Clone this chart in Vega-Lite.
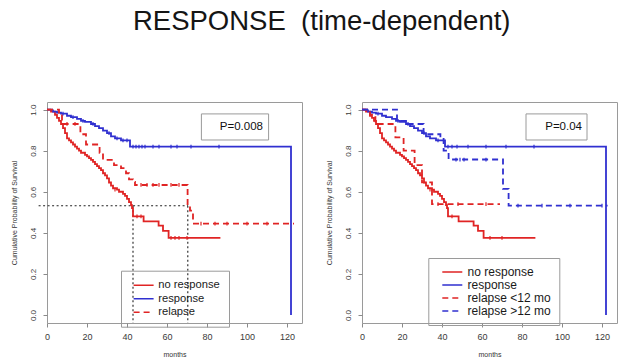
{
  "$schema": "https://vega.github.io/schema/vega-lite/v6.json",
  "padding": {"left": 10, "top": 8, "right": 0, "bottom": 0},
  "title": {"text": "RESPONSE \u00a0(time-dependent)", "fontSize": 27.5, "font": "Liberation Sans", "fontWeight": "normal", "color": "#151515", "anchor": "middle", "offset": 66, "dx": 8},
  "datasets": {
    "km": [
      {"panel": "L", "group": "no response", "month": 0, "surv": 1.0},
      {"panel": "L", "group": "no response", "month": 2, "surv": 0.99},
      {"panel": "L", "group": "no response", "month": 4, "surv": 0.975},
      {"panel": "L", "group": "no response", "month": 5, "surv": 0.96},
      {"panel": "L", "group": "no response", "month": 6, "surv": 0.945},
      {"panel": "L", "group": "no response", "month": 7, "surv": 0.93},
      {"panel": "L", "group": "no response", "month": 8, "surv": 0.91},
      {"panel": "L", "group": "no response", "month": 9, "surv": 0.885},
      {"panel": "L", "group": "no response", "month": 10, "surv": 0.86},
      {"panel": "L", "group": "no response", "month": 11, "surv": 0.85},
      {"panel": "L", "group": "no response", "month": 12, "surv": 0.84},
      {"panel": "L", "group": "no response", "month": 13, "surv": 0.83},
      {"panel": "L", "group": "no response", "month": 14, "surv": 0.82},
      {"panel": "L", "group": "no response", "month": 15, "surv": 0.81},
      {"panel": "L", "group": "no response", "month": 16, "surv": 0.8},
      {"panel": "L", "group": "no response", "month": 17, "surv": 0.79},
      {"panel": "L", "group": "no response", "month": 19, "surv": 0.78},
      {"panel": "L", "group": "no response", "month": 20, "surv": 0.772},
      {"panel": "L", "group": "no response", "month": 21, "surv": 0.764},
      {"panel": "L", "group": "no response", "month": 22, "surv": 0.755},
      {"panel": "L", "group": "no response", "month": 23, "surv": 0.745},
      {"panel": "L", "group": "no response", "month": 24, "surv": 0.735},
      {"panel": "L", "group": "no response", "month": 25, "surv": 0.725},
      {"panel": "L", "group": "no response", "month": 26, "surv": 0.715},
      {"panel": "L", "group": "no response", "month": 27, "surv": 0.705},
      {"panel": "L", "group": "no response", "month": 28, "surv": 0.69},
      {"panel": "L", "group": "no response", "month": 29, "surv": 0.68},
      {"panel": "L", "group": "no response", "month": 30, "surv": 0.665},
      {"panel": "L", "group": "no response", "month": 31, "surv": 0.645},
      {"panel": "L", "group": "no response", "month": 32, "surv": 0.63},
      {"panel": "L", "group": "no response", "month": 33, "surv": 0.617},
      {"panel": "L", "group": "no response", "month": 35, "surv": 0.61},
      {"panel": "L", "group": "no response", "month": 36, "surv": 0.6},
      {"panel": "L", "group": "no response", "month": 38, "surv": 0.59},
      {"panel": "L", "group": "no response", "month": 39, "surv": 0.58},
      {"panel": "L", "group": "no response", "month": 40, "surv": 0.565},
      {"panel": "L", "group": "no response", "month": 41, "surv": 0.55},
      {"panel": "L", "group": "no response", "month": 42, "surv": 0.535},
      {"panel": "L", "group": "no response", "month": 42.5, "surv": 0.52},
      {"panel": "L", "group": "no response", "month": 43, "surv": 0.48},
      {"panel": "L", "group": "no response", "month": 48.3, "surv": 0.456},
      {"panel": "L", "group": "no response", "month": 55.8, "surv": 0.435},
      {"panel": "L", "group": "no response", "month": 58, "surv": 0.41},
      {"panel": "L", "group": "no response", "month": 60.8, "surv": 0.375},
      {"panel": "L", "group": "no response", "month": 86.7, "surv": 0.375},
      {"panel": "L", "group": "response", "month": 0, "surv": 1.0},
      {"panel": "L", "group": "response", "month": 3, "surv": 0.99},
      {"panel": "L", "group": "response", "month": 5, "surv": 0.985},
      {"panel": "L", "group": "response", "month": 7, "surv": 0.98},
      {"panel": "L", "group": "response", "month": 10, "surv": 0.97},
      {"panel": "L", "group": "response", "month": 12, "surv": 0.963},
      {"panel": "L", "group": "response", "month": 15, "surv": 0.955},
      {"panel": "L", "group": "response", "month": 17, "surv": 0.945},
      {"panel": "L", "group": "response", "month": 19, "surv": 0.94},
      {"panel": "L", "group": "response", "month": 22, "surv": 0.93},
      {"panel": "L", "group": "response", "month": 24, "surv": 0.92},
      {"panel": "L", "group": "response", "month": 26, "surv": 0.91},
      {"panel": "L", "group": "response", "month": 28, "surv": 0.898},
      {"panel": "L", "group": "response", "month": 30, "surv": 0.885},
      {"panel": "L", "group": "response", "month": 32, "surv": 0.87},
      {"panel": "L", "group": "response", "month": 34, "surv": 0.86},
      {"panel": "L", "group": "response", "month": 37, "surv": 0.85},
      {"panel": "L", "group": "response", "month": 41.5, "surv": 0.82},
      {"panel": "L", "group": "response", "month": 122, "surv": 0.0},
      {"panel": "L", "group": "relapse", "month": 0, "surv": 1.0},
      {"panel": "L", "group": "relapse", "month": 6, "surv": 0.985},
      {"panel": "L", "group": "relapse", "month": 7.5, "surv": 0.93},
      {"panel": "L", "group": "relapse", "month": 16.7, "surv": 0.88},
      {"panel": "L", "group": "relapse", "month": 19.5, "surv": 0.83},
      {"panel": "L", "group": "relapse", "month": 26.3, "surv": 0.79},
      {"panel": "L", "group": "relapse", "month": 28, "surv": 0.755},
      {"panel": "L", "group": "relapse", "month": 33.5, "surv": 0.73},
      {"panel": "L", "group": "relapse", "month": 37, "surv": 0.715},
      {"panel": "L", "group": "relapse", "month": 39.5, "surv": 0.69},
      {"panel": "L", "group": "relapse", "month": 41, "surv": 0.66},
      {"panel": "L", "group": "relapse", "month": 43, "surv": 0.648},
      {"panel": "L", "group": "relapse", "month": 44, "surv": 0.633},
      {"panel": "L", "group": "relapse", "month": 70.3, "surv": 0.53},
      {"panel": "L", "group": "relapse", "month": 71.5, "surv": 0.508},
      {"panel": "L", "group": "relapse", "month": 73, "surv": 0.445},
      {"panel": "L", "group": "relapse", "month": 123.5, "surv": 0.445},
      {"panel": "R", "group": "no response", "month": 0, "surv": 1.0},
      {"panel": "R", "group": "no response", "month": 2, "surv": 0.99},
      {"panel": "R", "group": "no response", "month": 4, "surv": 0.975},
      {"panel": "R", "group": "no response", "month": 5, "surv": 0.96},
      {"panel": "R", "group": "no response", "month": 6, "surv": 0.945},
      {"panel": "R", "group": "no response", "month": 7, "surv": 0.93},
      {"panel": "R", "group": "no response", "month": 8, "surv": 0.91},
      {"panel": "R", "group": "no response", "month": 9, "surv": 0.885},
      {"panel": "R", "group": "no response", "month": 10, "surv": 0.86},
      {"panel": "R", "group": "no response", "month": 11, "surv": 0.85},
      {"panel": "R", "group": "no response", "month": 12, "surv": 0.84},
      {"panel": "R", "group": "no response", "month": 13, "surv": 0.83},
      {"panel": "R", "group": "no response", "month": 14, "surv": 0.82},
      {"panel": "R", "group": "no response", "month": 15, "surv": 0.81},
      {"panel": "R", "group": "no response", "month": 16, "surv": 0.8},
      {"panel": "R", "group": "no response", "month": 17, "surv": 0.79},
      {"panel": "R", "group": "no response", "month": 19, "surv": 0.78},
      {"panel": "R", "group": "no response", "month": 20, "surv": 0.772},
      {"panel": "R", "group": "no response", "month": 21, "surv": 0.764},
      {"panel": "R", "group": "no response", "month": 22, "surv": 0.755},
      {"panel": "R", "group": "no response", "month": 23, "surv": 0.745},
      {"panel": "R", "group": "no response", "month": 24, "surv": 0.735},
      {"panel": "R", "group": "no response", "month": 25, "surv": 0.725},
      {"panel": "R", "group": "no response", "month": 26, "surv": 0.715},
      {"panel": "R", "group": "no response", "month": 27, "surv": 0.705},
      {"panel": "R", "group": "no response", "month": 28, "surv": 0.69},
      {"panel": "R", "group": "no response", "month": 29, "surv": 0.68},
      {"panel": "R", "group": "no response", "month": 30, "surv": 0.665},
      {"panel": "R", "group": "no response", "month": 31, "surv": 0.645},
      {"panel": "R", "group": "no response", "month": 32, "surv": 0.63},
      {"panel": "R", "group": "no response", "month": 33, "surv": 0.617},
      {"panel": "R", "group": "no response", "month": 35, "surv": 0.61},
      {"panel": "R", "group": "no response", "month": 36, "surv": 0.6},
      {"panel": "R", "group": "no response", "month": 38, "surv": 0.59},
      {"panel": "R", "group": "no response", "month": 39, "surv": 0.58},
      {"panel": "R", "group": "no response", "month": 40, "surv": 0.565},
      {"panel": "R", "group": "no response", "month": 41, "surv": 0.55},
      {"panel": "R", "group": "no response", "month": 42, "surv": 0.535},
      {"panel": "R", "group": "no response", "month": 42.5, "surv": 0.52},
      {"panel": "R", "group": "no response", "month": 43, "surv": 0.48},
      {"panel": "R", "group": "no response", "month": 48.3, "surv": 0.456},
      {"panel": "R", "group": "no response", "month": 55.8, "surv": 0.435},
      {"panel": "R", "group": "no response", "month": 58, "surv": 0.41},
      {"panel": "R", "group": "no response", "month": 60.8, "surv": 0.375},
      {"panel": "R", "group": "no response", "month": 86.7, "surv": 0.375},
      {"panel": "R", "group": "response", "month": 0, "surv": 1.0},
      {"panel": "R", "group": "response", "month": 3, "surv": 0.99},
      {"panel": "R", "group": "response", "month": 5, "surv": 0.985},
      {"panel": "R", "group": "response", "month": 7, "surv": 0.98},
      {"panel": "R", "group": "response", "month": 10, "surv": 0.97},
      {"panel": "R", "group": "response", "month": 12, "surv": 0.963},
      {"panel": "R", "group": "response", "month": 15, "surv": 0.955},
      {"panel": "R", "group": "response", "month": 17, "surv": 0.945},
      {"panel": "R", "group": "response", "month": 19, "surv": 0.94},
      {"panel": "R", "group": "response", "month": 22, "surv": 0.93},
      {"panel": "R", "group": "response", "month": 24, "surv": 0.92},
      {"panel": "R", "group": "response", "month": 26, "surv": 0.91},
      {"panel": "R", "group": "response", "month": 28, "surv": 0.898},
      {"panel": "R", "group": "response", "month": 30, "surv": 0.885},
      {"panel": "R", "group": "response", "month": 32, "surv": 0.87},
      {"panel": "R", "group": "response", "month": 34, "surv": 0.86},
      {"panel": "R", "group": "response", "month": 37, "surv": 0.85},
      {"panel": "R", "group": "response", "month": 41.5, "surv": 0.82},
      {"panel": "R", "group": "response", "month": 122, "surv": 0.0},
      {"panel": "R", "group": "relapse <12 mo", "month": 0, "surv": 1.0},
      {"panel": "R", "group": "relapse <12 mo", "month": 4, "surv": 0.97},
      {"panel": "R", "group": "relapse <12 mo", "month": 6.7, "surv": 0.93},
      {"panel": "R", "group": "relapse <12 mo", "month": 16.7, "surv": 0.865},
      {"panel": "R", "group": "relapse <12 mo", "month": 20.8, "surv": 0.8},
      {"panel": "R", "group": "relapse <12 mo", "month": 26.3, "surv": 0.73},
      {"panel": "R", "group": "relapse <12 mo", "month": 30, "surv": 0.646},
      {"panel": "R", "group": "relapse <12 mo", "month": 35, "surv": 0.54},
      {"panel": "R", "group": "relapse <12 mo", "month": 69, "surv": 0.54},
      {"panel": "R", "group": "relapse >12 mo", "month": 0, "surv": 1.0},
      {"panel": "R", "group": "relapse >12 mo", "month": 17.5, "surv": 0.945},
      {"panel": "R", "group": "relapse >12 mo", "month": 22, "surv": 0.93},
      {"panel": "R", "group": "relapse >12 mo", "month": 30.8, "surv": 0.88},
      {"panel": "R", "group": "relapse >12 mo", "month": 39.2, "surv": 0.87},
      {"panel": "R", "group": "relapse >12 mo", "month": 40.8, "surv": 0.8},
      {"panel": "R", "group": "relapse >12 mo", "month": 43.3, "surv": 0.757},
      {"panel": "R", "group": "relapse >12 mo", "month": 70.5, "surv": 0.614},
      {"panel": "R", "group": "relapse >12 mo", "month": 73.3, "surv": 0.532},
      {"panel": "R", "group": "relapse >12 mo", "month": 122.8, "surv": 0.532}
    ],
    "censor": [
      {"panel": "L", "group": "response", "month": 8, "surv": 0.98},
      {"panel": "L", "group": "response", "month": 13, "surv": 0.963},
      {"panel": "L", "group": "response", "month": 18, "surv": 0.945},
      {"panel": "L", "group": "response", "month": 23, "surv": 0.93},
      {"panel": "L", "group": "response", "month": 31, "surv": 0.885},
      {"panel": "L", "group": "response", "month": 35, "surv": 0.86},
      {"panel": "L", "group": "response", "month": 38, "surv": 0.85},
      {"panel": "L", "group": "response", "month": 40, "surv": 0.85},
      {"panel": "L", "group": "response", "month": 43, "surv": 0.82},
      {"panel": "L", "group": "response", "month": 44.5, "surv": 0.82},
      {"panel": "L", "group": "response", "month": 46, "surv": 0.82},
      {"panel": "L", "group": "response", "month": 47.5, "surv": 0.82},
      {"panel": "L", "group": "response", "month": 49, "surv": 0.82},
      {"panel": "L", "group": "response", "month": 53, "surv": 0.82},
      {"panel": "L", "group": "response", "month": 56, "surv": 0.82},
      {"panel": "L", "group": "response", "month": 62, "surv": 0.82},
      {"panel": "L", "group": "response", "month": 65, "surv": 0.82},
      {"panel": "L", "group": "response", "month": 72, "surv": 0.82},
      {"panel": "L", "group": "response", "month": 86, "surv": 0.82},
      {"panel": "L", "group": "no response", "month": 34, "surv": 0.61},
      {"panel": "L", "group": "no response", "month": 45, "surv": 0.48},
      {"panel": "L", "group": "no response", "month": 47, "surv": 0.48},
      {"panel": "L", "group": "no response", "month": 62, "surv": 0.375},
      {"panel": "L", "group": "no response", "month": 64, "surv": 0.375},
      {"panel": "L", "group": "no response", "month": 66, "surv": 0.375},
      {"panel": "L", "group": "no response", "month": 70, "surv": 0.375},
      {"panel": "L", "group": "relapse", "month": 10, "surv": 0.93},
      {"panel": "L", "group": "relapse", "month": 14, "surv": 0.93},
      {"panel": "L", "group": "relapse", "month": 47, "surv": 0.633},
      {"panel": "L", "group": "relapse", "month": 50, "surv": 0.633},
      {"panel": "L", "group": "relapse", "month": 53, "surv": 0.633},
      {"panel": "L", "group": "relapse", "month": 56, "surv": 0.633},
      {"panel": "L", "group": "relapse", "month": 62, "surv": 0.633},
      {"panel": "L", "group": "relapse", "month": 66, "surv": 0.633},
      {"panel": "L", "group": "relapse", "month": 77, "surv": 0.445},
      {"panel": "L", "group": "relapse", "month": 84, "surv": 0.445},
      {"panel": "L", "group": "relapse", "month": 90, "surv": 0.445},
      {"panel": "L", "group": "relapse", "month": 100, "surv": 0.445},
      {"panel": "L", "group": "relapse", "month": 110, "surv": 0.445},
      {"panel": "R", "group": "response", "month": 8, "surv": 0.98},
      {"panel": "R", "group": "response", "month": 18, "surv": 0.945},
      {"panel": "R", "group": "response", "month": 23, "surv": 0.93},
      {"panel": "R", "group": "response", "month": 31, "surv": 0.885},
      {"panel": "R", "group": "response", "month": 38, "surv": 0.85},
      {"panel": "R", "group": "response", "month": 43, "surv": 0.82},
      {"panel": "R", "group": "response", "month": 45, "surv": 0.82},
      {"panel": "R", "group": "response", "month": 47.5, "surv": 0.82},
      {"panel": "R", "group": "response", "month": 53, "surv": 0.82},
      {"panel": "R", "group": "response", "month": 62, "surv": 0.82},
      {"panel": "R", "group": "response", "month": 72, "surv": 0.82},
      {"panel": "R", "group": "response", "month": 86, "surv": 0.82},
      {"panel": "R", "group": "no response", "month": 34, "surv": 0.61},
      {"panel": "R", "group": "no response", "month": 45, "surv": 0.48},
      {"panel": "R", "group": "no response", "month": 64, "surv": 0.375},
      {"panel": "R", "group": "no response", "month": 70, "surv": 0.375},
      {"panel": "R", "group": "relapse <12 mo", "month": 38, "surv": 0.54},
      {"panel": "R", "group": "relapse <12 mo", "month": 48, "surv": 0.54},
      {"panel": "R", "group": "relapse <12 mo", "month": 62, "surv": 0.54},
      {"panel": "R", "group": "relapse >12 mo", "month": 47, "surv": 0.757},
      {"panel": "R", "group": "relapse >12 mo", "month": 49, "surv": 0.757},
      {"panel": "R", "group": "relapse >12 mo", "month": 51, "surv": 0.757},
      {"panel": "R", "group": "relapse >12 mo", "month": 62, "surv": 0.757},
      {"panel": "R", "group": "relapse >12 mo", "month": 78, "surv": 0.532},
      {"panel": "R", "group": "relapse >12 mo", "month": 90, "surv": 0.532},
      {"panel": "R", "group": "relapse >12 mo", "month": 104, "surv": 0.532},
      {"panel": "R", "group": "relapse >12 mo", "month": 120, "surv": 0.532}
    ],
    "pbox": [
      {"panel": "L", "month": 77.2, "month2": 110.8, "surv": 0.979, "surv2": 0.852},
      {"panel": "R", "month": 82, "month2": 112.5, "surv": 0.979, "surv2": 0.852}
    ],
    "plabel": [
      {"panel": "L", "month": 108, "surv": 0.914, "label": "P=0.008"},
      {"panel": "R", "month": 110, "surv": 0.914, "label": "P=0.04"}
    ],
    "guide": [
      {"month": -4.2, "month2": 70.5, "surv": 0.532, "surv2": 0.532},
      {"month": 43, "month2": 43, "surv": 0.532, "surv2": -0.039},
      {"month": 70.4, "month2": 70.4, "surv": 0.532, "surv2": -0.039}
    ]
  },
  "hconcat": [
    {
      "width": 255,
      "height": 221,
      "encoding": {
        "x": {"field": "month", "type": "quantitative", "scale": {"domain": [0, 127.5], "nice": false, "zero": false},
          "axis": {"values": [0, 20, 40, 60, 80, 100, 120], "labelFontSize": 9, "labelPadding": 5, "labelFlush": false, "title": "months", "titleFontSize": 7, "titlePadding": 9}},
        "y": {"field": "surv", "type": "quantitative", "scale": {"domain": [-0.039, 1.037], "nice": false, "zero": false},
          "axis": {"values": [0, 0.2, 0.4, 0.6, 0.8, 1.0], "format": ".1f", "labelAngle": -90, "labelAlign": "center", "labelBaseline": "middle", "labelPadding": 9.5, "labelFontSize": 8, "title": "Cumulative Probability of Survival", "titleFontSize": 7, "titlePadding": 12}}
      },
      "layer": [
        {
          "data": {"name": "guide"},
          "mark": {"type": "rule", "color": "#222222", "strokeDash": [2, 2.5], "strokeWidth": 1.1, "clip": false},
          "encoding": {"x2": {"field": "month2"}, "y2": {"field": "surv2"}}
        },
        {
          "data": {"name": "km"},
          "transform": [{"filter": "datum.panel == 'L'"}],
          "mark": {"type": "line", "interpolate": "step-after", "strokeWidth": 1.8},
          "encoding": {
            "color": {"field": "group", "type": "nominal",
              "scale": {"domain": ["no response", "response", "relapse"], "range": ["#e02424", "#3030d0", "#e02424"]},
              "legend": {"title": null, "orient": "none", "legendX": 74, "legendY": 168.7, "symbolType": "M-1,0H9", "symbolSize": 16, "symbolStrokeWidth": 1.6, "labelFontSize": 11.2, "labelOffset": 17, "padding": 9, "rowPadding": 1.5, "strokeColor": "#9a9a9a", "cornerRadius": 0, "labelColor": "#1a1a1a", "labelFont": "Liberation Sans"}},
            "strokeDash": {"field": "group", "type": "nominal",
              "scale": {"domain": ["no response", "response", "relapse"], "range": [[1, 0], [1, 0], [6, 4]]},
              "legend": {"title": null, "orient": "none", "legendX": 74, "legendY": 168.7, "symbolType": "M-1,0H9", "symbolSize": 16, "symbolStrokeWidth": 1.6, "labelFontSize": 11.2, "labelOffset": 17, "padding": 9, "rowPadding": 1.5, "strokeColor": "#9a9a9a", "cornerRadius": 0, "labelColor": "#1a1a1a", "labelFont": "Liberation Sans"}}
          }
        },
        {
          "data": {"name": "censor"},
          "transform": [{"filter": "datum.panel == 'L'"}],
          "mark": {"type": "point", "shape": "M0,-1V1", "filled": false, "size": 14, "strokeWidth": 1.2, "opacity": 1},
          "encoding": {"color": {"field": "group", "type": "nominal"}}
        },
        {
          "data": {"name": "pbox"},
          "transform": [{"filter": "datum.panel == 'L'"}],
          "mark": {"type": "rect", "fill": "white", "stroke": "#9a9a9a", "strokeWidth": 1},
          "encoding": {"x2": {"field": "month2"}, "y2": {"field": "surv2"}}
        },
        {
          "data": {"name": "plabel"},
          "transform": [{"filter": "datum.panel == 'L'"}],
          "mark": {"type": "text", "align": "right", "baseline": "middle", "fontSize": 11.5, "font": "Liberation Sans", "color": "#111111"},
          "encoding": {"text": {"field": "label"}}
        }
      ]
    },
    {
      "width": 255,
      "height": 221,
      "encoding": {
        "x": {"field": "month", "type": "quantitative", "scale": {"domain": [0, 127.5], "nice": false, "zero": false},
          "axis": {"values": [0, 20, 40, 60, 80, 100, 120], "labelFontSize": 9, "labelPadding": 5, "labelFlush": false, "title": "months", "titleFontSize": 7, "titlePadding": 9}},
        "y": {"field": "surv", "type": "quantitative", "scale": {"domain": [-0.039, 1.037], "nice": false, "zero": false},
          "axis": {"values": [0, 0.2, 0.4, 0.6, 0.8, 1.0], "format": ".1f", "labelAngle": -90, "labelAlign": "center", "labelBaseline": "middle", "labelPadding": 9.5, "labelFontSize": 8, "title": "Cumulative Probability of Survival", "titleFontSize": 7, "titlePadding": 12}}
      },
      "layer": [
        {
          "data": {"name": "km"},
          "transform": [{"filter": "datum.panel == 'R'"}],
          "mark": {"type": "line", "interpolate": "step-after", "strokeWidth": 1.8},
          "encoding": {
            "color": {"field": "group", "type": "nominal",
              "scale": {"domain": ["no response", "response", "relapse <12 mo", "relapse >12 mo"], "range": ["#e02424", "#3030d0", "#e02424", "#3030d0"]},
              "legend": {"title": null, "orient": "none", "legendX": 66.3, "legendY": 156, "symbolType": "M0,0H10", "symbolSize": 16, "symbolStrokeWidth": 1.6, "labelFontSize": 12, "labelOffset": 19.3, "padding": 8, "rowPadding": 1, "strokeColor": "#9a9a9a", "cornerRadius": 0, "labelColor": "#1a1a1a", "labelFont": "Liberation Sans"}},
            "strokeDash": {"field": "group", "type": "nominal",
              "scale": {"domain": ["no response", "response", "relapse <12 mo", "relapse >12 mo"], "range": [[1, 0], [1, 0], [6, 4], [6, 4]]},
              "legend": {"title": null, "orient": "none", "legendX": 66.3, "legendY": 156, "symbolType": "M0,0H10", "symbolSize": 16, "symbolStrokeWidth": 1.6, "labelFontSize": 12, "labelOffset": 19.3, "padding": 8, "rowPadding": 1, "strokeColor": "#9a9a9a", "cornerRadius": 0, "labelColor": "#1a1a1a", "labelFont": "Liberation Sans"}}
          }
        },
        {
          "data": {"name": "censor"},
          "transform": [{"filter": "datum.panel == 'R'"}],
          "mark": {"type": "point", "shape": "M0,-1V1", "filled": false, "size": 14, "strokeWidth": 1.2, "opacity": 1},
          "encoding": {"color": {"field": "group", "type": "nominal"}}
        },
        {
          "data": {"name": "pbox"},
          "transform": [{"filter": "datum.panel == 'R'"}],
          "mark": {"type": "rect", "fill": "white", "stroke": "#9a9a9a", "strokeWidth": 1},
          "encoding": {"x2": {"field": "month2"}, "y2": {"field": "surv2"}}
        },
        {
          "data": {"name": "plabel"},
          "transform": [{"filter": "datum.panel == 'R'"}],
          "mark": {"type": "text", "align": "right", "baseline": "middle", "fontSize": 11.5, "font": "Liberation Sans", "color": "#111111"},
          "encoding": {"text": {"field": "label"}}
        }
      ]
    }
  ],
  "spacing": 60,
  "bounds": "flush",
  "resolve": {
    "scale": {"color": "independent", "strokeDash": "independent", "x": "independent", "y": "independent"},
    "legend": {"color": "independent", "strokeDash": "independent"}
  },
  "config": {
    "font": "Liberation Sans",
    "view": {"stroke": "#9a9a9a", "strokeWidth": 1},
    "axis": {"grid": false, "domain": false, "ticks": true, "tickColor": "#8a8a8a", "tickSize": 4, "labelColor": "#3a3a3a", "titleColor": "#333333", "titleFontWeight": "normal", "labelFont": "Liberation Sans", "titleFont": "Liberation Sans"}
  }
}
